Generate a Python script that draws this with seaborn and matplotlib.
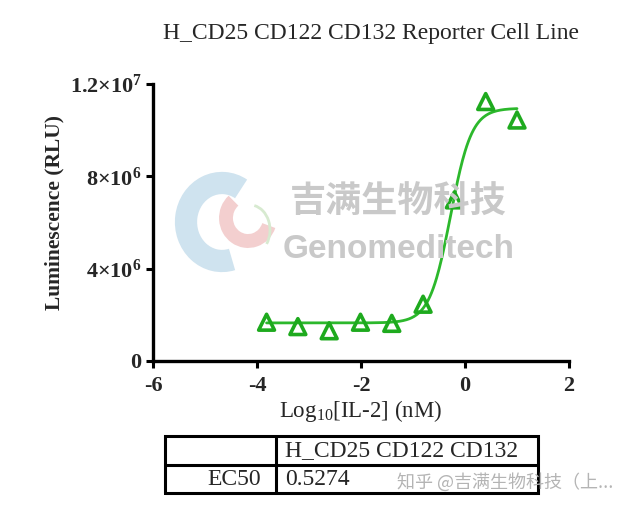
import numpy as np
import pandas as pd
import matplotlib
matplotlib.use('Agg')
import matplotlib.pyplot as plt
from matplotlib.patches import Arc
import seaborn as sns

# data (4-fold dilution series)
log_conc = [-3.816, -3.214, -2.612, -2.010, -1.408, -0.806, -0.204, 0.398, 1.000]
rlu = [1.68e6, 1.49e6, 1.31e6, 1.68e6, 1.63e6, 2.46e6, 6.98e6, 11.24e6, 10.44e6]

# 4PL fit parameters
fit_bottom = 1.65e6
fit_top = 10.95e6
ec50 = 0.5274
hill = 2.15

y_ticks = [0, 4e6, 8e6, 1.2e7]
y_tick_labels = [r'$\mathbf{0}$', r'$\mathbf{4×10^{6}}$', r'$\mathbf{8×10^{6}}$', r'$\mathbf{1.2×10^{7}}$']
x_ticks = [-6, -4, -2, 0, 2]

table_header = 'H_CD25 CD122 CD132'
table_row = 'EC50'
table_value = '0.5274'

green = '#1eaa1e'

sns.set_style('ticks')
plt.rcParams['font.family'] = ['Liberation Serif', 'DejaVu Serif']
plt.rcParams['mathtext.fontset'] = 'custom'
plt.rcParams['mathtext.rm'] = 'Liberation Serif'
plt.rcParams['mathtext.bf'] = 'Liberation Serif:bold'
plt.rcParams['mathtext.it'] = 'Liberation Serif:italic'

fig = plt.figure(figsize=(6.33, 5.08), dpi=100)
ax = fig.add_axes([153 / 633, 1 - 361 / 508, (569 - 153) / 633, (361 - 84) / 508])

# watermark logo (rough) and text
wax = fig.add_axes([0, 0, 1, 1], zorder=-1)
wax.set_xlim(0, 633)
wax.set_ylim(508, 0)
wax.axis('off')
wax.add_patch(Arc((222, 222), 72, 78, theta1=75, theta2=300, lw=16, color='#cfe3ef'))
wax.add_patch(Arc((248, 218), 44, 46, theta1=20, theta2=230, lw=10, color='#f3cfcf'))
wax.add_patch(Arc((250, 230), 40, 50, theta1=-80, theta2=40, lw=2, color='#d7ead0'))
fig.text(398 / 633, 1 - 202 / 508, '吉满生物科技', family=['Noto Sans CJK SC'], weight='bold',
         fontsize=26, color='#c9c9c9', ha='center', va='center', zorder=0)
fig.text(399 / 633, 1 - 250 / 508, 'Genomeditech', family=['Liberation Sans'], weight='bold',
         fontsize=24, color='#c9c9c9', ha='center', va='center', zorder=0)

df = pd.DataFrame({'x': log_conc, 'y': rlu})
xs = np.linspace(min(log_conc), max(log_conc), 300)
curve = pd.DataFrame({'x': xs,
                      'y': fit_bottom + (fit_top - fit_bottom) / (1 + 10 ** ((np.log10(ec50) - xs) * hill))})

sns.lineplot(data=curve, x='x', y='y', ax=ax, color='#2cb82c', lw=2)
sns.scatterplot(data=df, x='x', y='y', ax=ax, marker='^', s=130, facecolor='none',
                edgecolor=green, linewidth=2.6, zorder=3)

ax.patch.set_alpha(0)
ax.set_xlim(-6, 2)
ax.set_ylim(0, 1.2e7)
ax.set_xticks(x_ticks)
ax.set_xticklabels([str(t) for t in x_ticks], fontsize=16, fontweight='bold')
ax.set_yticks(y_ticks)
ax.set_yticklabels(y_tick_labels, fontsize=16)
ax.tick_params(width=2.2, length=5, color='black')
ax.tick_params(axis='x', pad=6)
ax.tick_params(axis='y', pad=3)
for s in ['left', 'bottom']:
    ax.spines[s].set_linewidth(2.4)
    ax.spines[s].set_color('black')
sns.despine(ax=ax)
ax.spines['left'].set_capstyle('projecting')
ax.set_xlabel('Log$_{10}$[IL-2] (nM)', fontsize=16.5, labelpad=1)
ax.set_ylabel('Luminescence (RLU)', fontsize=15.5, fontweight='bold')
ax.yaxis.set_label_coords((64 - 153) / 416, (361 - 213) / 277)

fig.text(371 / 633, 1 - 34 / 508, 'H_CD25 CD122 CD132 Reporter Cell Line', fontsize=17,
         ha='center', va='center')

# table
tax = fig.add_axes([165 / 633, 1 - 493 / 508, (538 - 165) / 633, (493 - 436) / 508])
tax.set_xlim(0, 1)
tax.set_ylim(0, 1)
tax.axis('off')
lw = 2.2
tax.plot([0, 1, 1, 0, 0], [0, 0, 1, 1, 0], color='black', lw=lw, clip_on=False, solid_joinstyle='miter')
tax.plot([0, 1], [0.5, 0.5], color='black', lw=lw, clip_on=False)
div = (276 - 165) / (538 - 165)
tax.plot([div, div], [0, 1], color='black', lw=lw, clip_on=False)
tax.text(div + 0.025, 0.74, table_header, fontsize=17, va='center', ha='left')
tax.text(div - 0.04, 0.24, table_row, fontsize=17, va='center', ha='right')
tax.text(div + 0.025, 0.24, table_value, fontsize=17, va='center', ha='left')

fig.text(505 / 633, 1 - 482 / 508, '知乎 @吉满生物科技（上...', family=['Noto Sans CJK SC'],
         fontsize=13, color='#b4b4b4', ha='center', va='center')

fig.savefig('out.png', dpi=100)
